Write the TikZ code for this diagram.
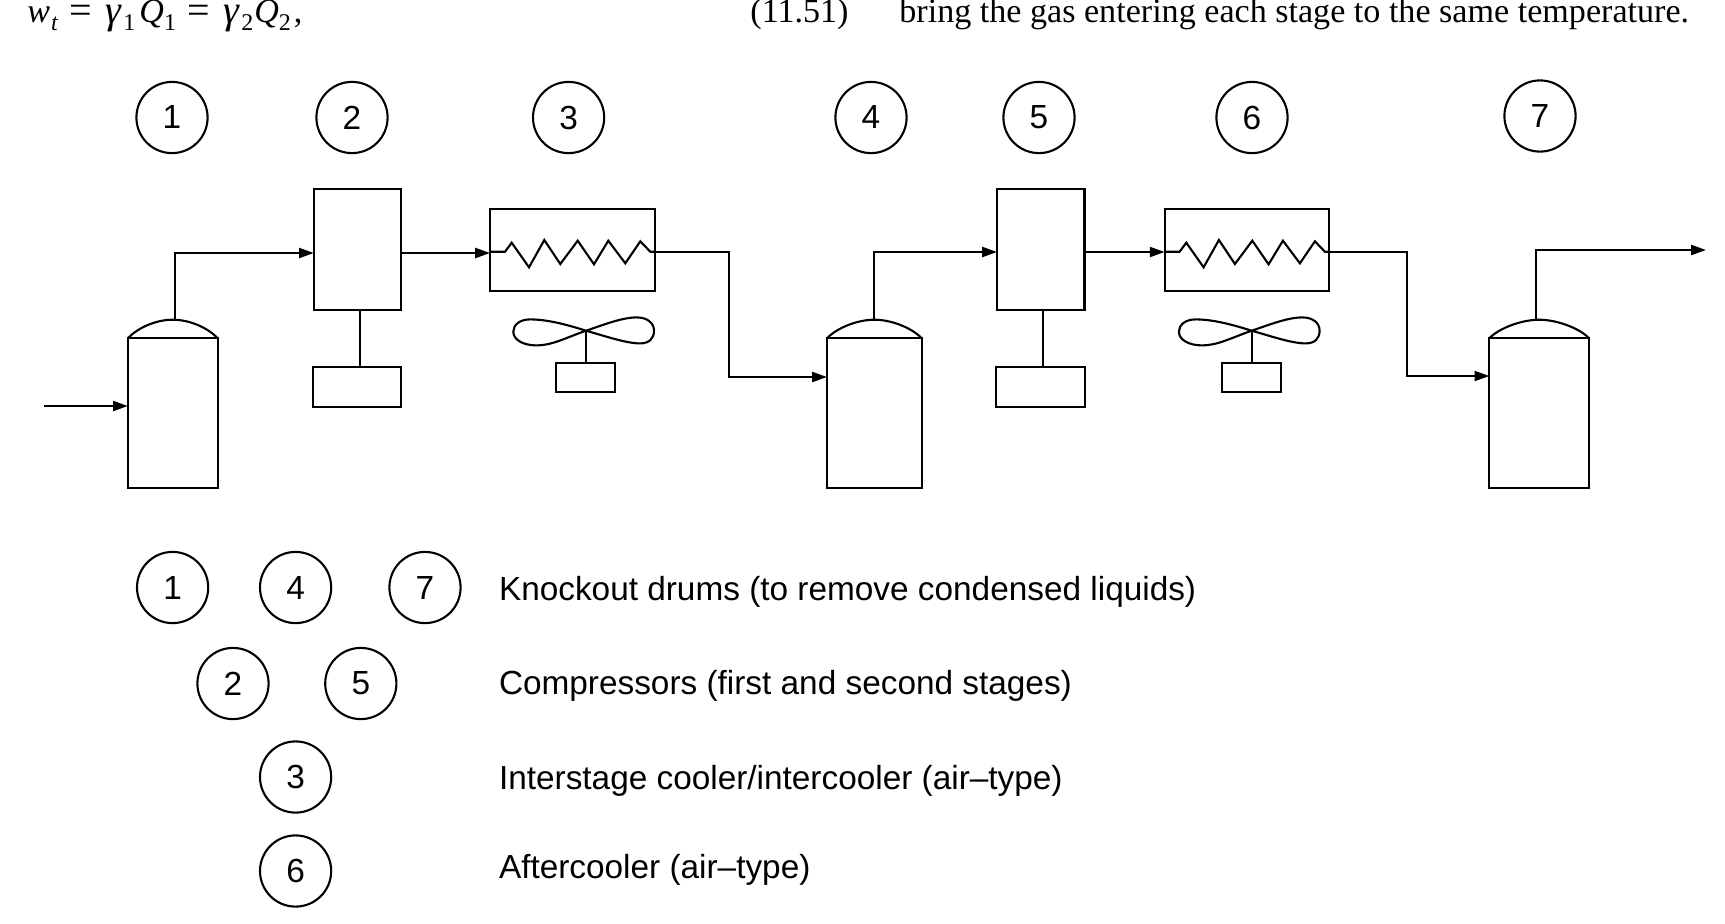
\documentclass[tikz,border=0pt]{standalone}
\usepackage{fontspec}
\setmainfont{Liberation Serif}
\newfontfamily\lblfont{Liberation Sans}
\usetikzlibrary{arrows.meta}
\newcommand{\lowsub}[1]{\raisebox{-0.22em}{\fontsize{12pt}{12pt}\selectfont #1}}
\newcommand{\mathbig}[1]{\raisebox{-0.4pt}{\fontsize{20pt}{20pt}\selectfont #1}}
\newcommand{\eqtxt}{\fontsize{17.05pt}{20pt}\selectfont}
\tikzset{
  wire/.style={line width=1.05pt,line join=miter},
  flow/.style={wire,-{Triangle[length=7.4pt,width=5pt]}},
  unit/.style={draw,line width=1.05pt,rectangle,inner sep=0pt,outer sep=0pt},
  compbox/.style={unit,minimum width=43.6pt,minimum height=60.2pt},
  motorbox/.style={unit,minimum width=44.2pt,minimum height=20pt},
  coolbox/.style={unit,minimum width=82.3pt,minimum height=40.9pt},
  fanbox/.style={unit,minimum width=29.5pt,minimum height=14.6pt},
  numc/.style={draw,line width=1.05pt,circle,minimum size=35.6pt,inner sep=0pt,outer sep=0pt,font=\lblfont\fontsize{16.7pt}{18pt}\selectfont},
  lbl/.style={anchor=base west,inner sep=0pt,font=\lblfont\fontsize{16.68pt}{20pt}\selectfont},
  eqn/.style={anchor=base west,inner sep=0pt,font=\eqtxt},
  pics/zig/.style={code={
    \draw[wire] (0,0) -- (15,0) -- (21.7,-9) -- (39,15.6) -- (54.3,-11.7) -- (70.3,12.3) -- (87.7,-11) -- (104,12.6) -- (118.3,-11) -- (135.3,11.6) -- (150.3,-10.4) -- (160.3,0) -- (165,0);
  }},
  pics/fan/.style={code={
    \draw[wire] (0,0) .. controls (-22,-7) and (-40,-11.3) .. (-56,-11.3)
      .. controls (-66,-11.3) and (-72.7,-6) .. (-72.7,1)
      .. controls (-72.7,9) and (-63,14.7) .. (-49.3,14.7)
      .. controls (-34,14.7) and (-20,7) .. (0,0)
      .. controls (18,-6) and (36,-13.3) .. (50.7,-13.3)
      .. controls (61,-13.3) and (68,-8) .. (68,0)
      .. controls (68,8) and (63,12.7) .. (54,12.7)
      .. controls (40,12.7) and (18,5) .. (0,0);
  }},
}
\newcommand{\drum}[5]{% name, centre x, half width, stem x, top y
  \node[unit,minimum width=#3pt,minimum height=75pt] (#1) at (#2,413.3) {};
  \draw[wire] (#1.north west) .. controls +(10,-10.5) and +(-17,0) .. (#4,319.7) coordinate (#1top)
     .. controls +(17,0) and +(-10,-10.5) .. (#1.north east);
}
\begin{document}
\begin{tikzpicture}[x=0.5pt,y=-0.5pt]
\useasboundingbox[fill=white] (0,0) rectangle (1725,923);

% running text
\node[eqn] (eqa) at (27,22.5) {\textit{w}\kern0.5pt\lowsub{\textit{t}}\kern5.5pt\mathbig{=}\kern7pt\mathbig{\textit{γ}}\kern0.5pt\lowsub{1}\kern2pt\textit{Q}\lowsub{1}\kern5.5pt\mathbig{=}\kern7pt\mathbig{\textit{γ}}\kern0.5pt\lowsub{2}\kern0.5pt\textit{Q}\lowsub{2}\kern1.5pt,};
\node[eqn] (eqn) at (750,22.5) {(11.51)};
\node[eqn] (para) at (899,22.5) {bring the gas entering each stage to the same temperature.};

% numbered circles, top row
\node[numc] (n1) at (172,117.5) {1};
\node[numc] (n2) at (352,117.5) {2};
\node[numc] (n3) at (568.6,117.5) {3};
\node[numc] (n4) at (871,117.5) {4};
\node[numc] (n5) at (1039,117.5) {5};
\node[numc] (n6) at (1252,117.5) {6};
\node[numc] (n7) at (1540,116) {7};

% drums
\drum{d1}{172.8}{45}{172.8}{}
\drum{d2}{874.4}{47.4}{874.4}{}
\drum{d3}{1539.2}{49.9}{1539.2}{}

% compressors and drivers
\node[compbox] (c1) at (357.4,249.5) {};
\node[motorbox] (m1) at (356.9,387.3) {};
\node[compbox] (c2) at (1040.9,249.5) {};
\node[motorbox] (m2) at (1040.4,387.3) {};
\draw[wire] (360,309.7) coordinate (c1s) -- (c1s|-m1.north);
\draw[wire] (1043,309.7) coordinate (c2s) -- (c2s|-m2.north);

% coolers
\node[coolbox] (k1) at (572.3,250.2) {};
\node[coolbox] (k2) at (1246.9,250.2) {};
\pic at (490,251.7) {zig};
\pic at (1164.6,251.7) {zig};

% fans
\pic at (586,330.7) {fan};
\pic at (1251.6,330.7) {fan};
\coordinate (h1) at (586,330.7);
\coordinate (h2) at (1251.6,330.7);
\node[fanbox] (f1) at (585.5,377.7) {};
\node[fanbox] (f2) at (1251.9,377.7) {};
\draw[wire] (h1) -- (h1|-f1.north);
\draw[wire] (h2) -- (h2|-f2.north);

% stream ports
\coordinate (in0) at (44,406);
\coordinate (s1) at (175,319.7);
\coordinate (c1in) at (313.8,253);
\coordinate (c1out) at (401.4,253);
\coordinate (k1in) at (490,253);
\coordinate (k1out) at (654.6,251.7);
\coordinate (d2in) at (827,377);
\coordinate (s2) at (873.8,319.7);
\coordinate (c2in) at (997,252);
\coordinate (c2out) at (1085,252);
\coordinate (k2in) at (1164.6,252);
\coordinate (k2out) at (1329.2,251.7);
\coordinate (d3in) at (1489.3,376);
\coordinate (s3) at (1535.7,319.7);
\coordinate (prod) at (1706,250);

% streams
\draw[flow] (in0) -- (in0-|d1.west);
\draw[flow] (s1) |- (c1in);
\draw[flow] (c1out) -- (k1in);
\draw[flow] (k1out) -- (729,251.7) |- (d2in);
\draw[flow] (s2) |- (c2in);
\draw[flow] (c2out) -- (k2in);
\draw[flow] (k2out) -- (1406.6,251.7) |- (d3in);
\draw[flow] (s3) |- (prod);

% key
\node[numc] (a1) at (172.6,587.5) {1};
\node[numc] (a4) at (295.6,587.5) {4};
\node[numc] (a7) at (425,587.5) {7};
\node[numc] (a2) at (233,683.5) {2};
\node[numc] (a5) at (360.8,683.5) {5};
\node[numc] (a3) at (295.6,777) {3};
\node[numc] (a6) at (295.6,871) {6};
\node[lbl] (t1) at (498.6,600.3) {Knockout drums (to remove condensed liquids)};
\node[lbl] (t2) at (498.6,694.3) {Compressors (first and second stages)};
\node[lbl] (t3) at (498.6,789.3) {Interstage cooler/intercooler (air–type)};
\node[lbl] (t4) at (498.6,878) {Aftercooler (air–type)};
\end{tikzpicture}
\end{document}
